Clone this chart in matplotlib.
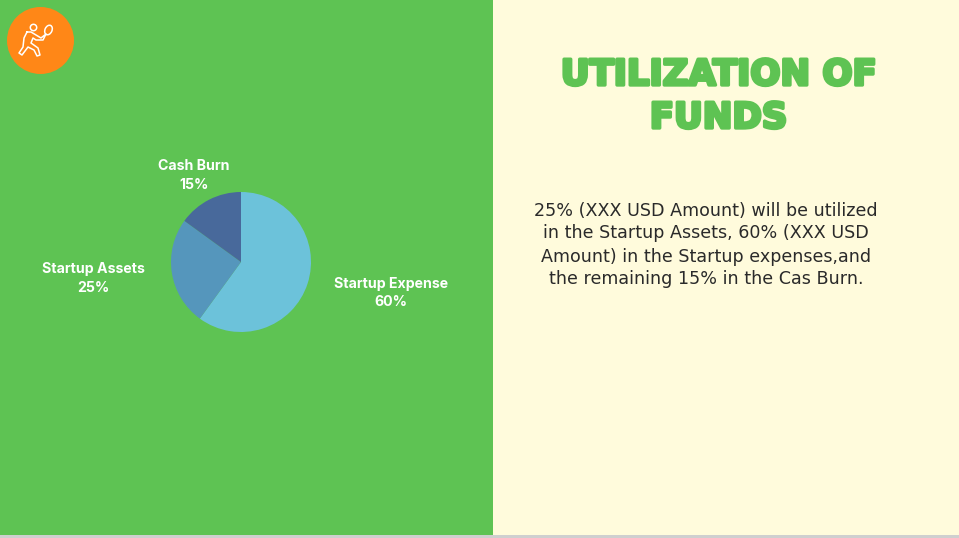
import matplotlib
matplotlib.use("Agg")
import matplotlib.pyplot as plt
import matplotlib.patheffects as pe
from matplotlib.patches import Rectangle, Circle, Ellipse

# dados da pizza
labels = ["Startup Expense", "Startup Assets", "Cash Burn"]
shares = [60, 25, 15]
colors = ["#6CC2DA", "#5596BC", "#48699B"]

title_lines = ["UTILIZATION OF", "FUNDS"]
body_lines = ["25% (XXX USD Amount) will be utilized",
              "in the Startup Assets, 60% (XXX USD",
              "Amount) in the Startup expenses,and",
              "the remaining 15% in the Cas Burn."]

GREEN = "#5EC353"
W, H = 959, 538

fig = plt.figure(figsize=(W / 100, H / 100), dpi=100)
bg = fig.add_axes([0, 0, 1, 1])
bg.set_xlim(0, W)
bg.set_ylim(H, 0)
bg.axis("off")

# fundo
bg.add_patch(Rectangle((0, 0), W, 535, color="#FFFBDC", lw=0))
bg.add_patch(Rectangle((0, 0), 493, 535, color=GREEN, lw=0))
bg.add_patch(Rectangle((0, 535), W, 3, color="#CFCFCF", lw=0))

# icone laranja
bg.add_patch(Circle((40.5, 40.5), 33.5, color="#FF8717", lw=0))
bg.add_patch(Circle((33.5, 27.5), 3.2, fill=False, ec="white", lw=1.1))
bg.add_patch(Ellipse((48.5, 30), 7, 10, angle=25, fill=False, ec="white", lw=1.1))
bg.plot([27, 31, 36, 41, 46, 43, 36, 33, 31, 38, 40, 37, 34, 28, 22, 19, 23, 24, 27],
        [32, 32, 35, 38, 34, 40, 40, 38, 43, 48, 55, 56, 50, 47, 55, 53, 47, 38, 32],
        color="white", lw=1.1)

# pizza
cx, cy, r = 241, 262, 70
pie_ax = fig.add_axes([(cx - r) / W, 1 - (cy + r) / H, 2 * r / W, 2 * r / H])
pie_ax.pie(shares, colors=colors, startangle=90, counterclock=False, radius=1,
           wedgeprops={"linewidth": 0})
pie_ax.set_xlim(-1, 1)
pie_ax.set_ylim(-1, 1)

label_pos = [(391, 284, 302), (93, 269, 288), (194, 166, 185)]
for name, val, (x, y1, y2) in zip(labels, shares, label_pos):
    bg.text(x, y1, name, color="white", fontsize=10.2, fontweight="bold",
            family="Inter", ha="center", va="center")
    bg.text(x, y2, f"{val}%", color="white", fontsize=10.2, fontweight="bold",
            family="Inter", ha="center", va="center")

# titulo
for line, y in zip(title_lines, [75, 118]):
    bg.text(718.5, y, line, color=GREEN, fontsize=25.5, fontweight="bold",
            family="DejaVu Sans", ha="center", va="center",
            path_effects=[pe.withStroke(linewidth=2.4, foreground=GREEN)])

# texto
for line, y in zip(body_lines, [210.5, 233.5, 256.5, 279.5]):
    bg.text(706, y, line, color="#2A2A2A", fontsize=12.6, family="DejaVu Sans",
            ha="center", va="center")

fig.savefig("out.png", dpi=100)
